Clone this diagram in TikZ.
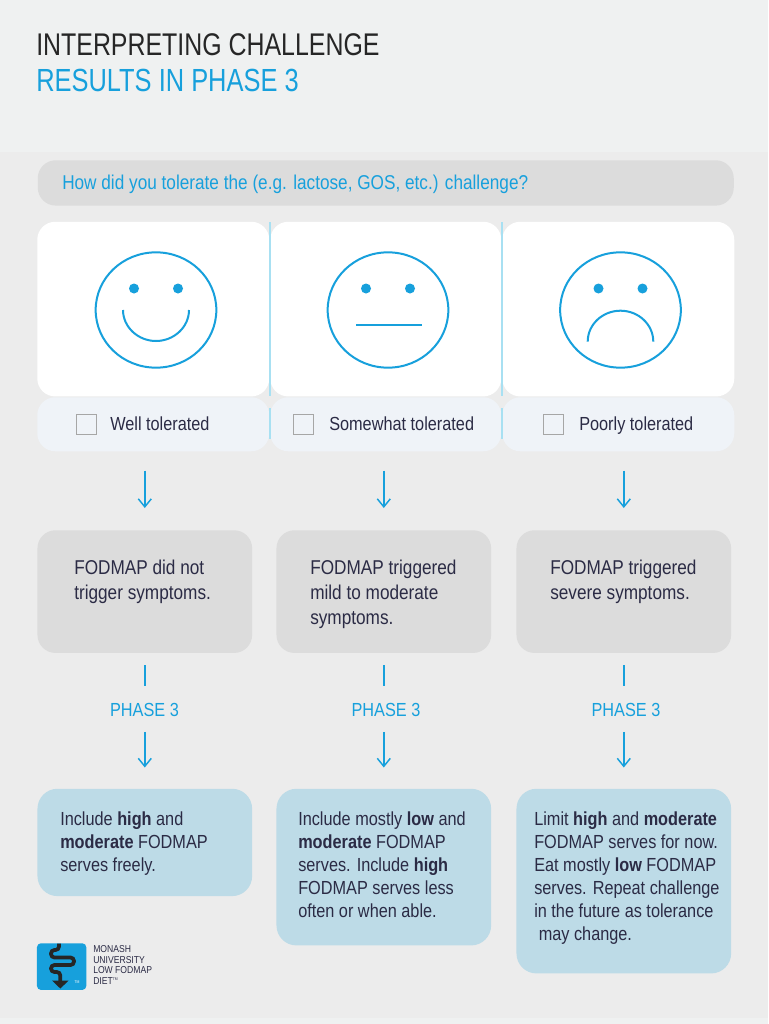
\documentclass[tikz,border=0pt]{standalone}
\usepackage{fontspec}
\usepackage{amsmath}
\setmainfont{Liberation Sans}[FakeStretch=0.86]
\newfontfamily\titlefont{Liberation Sans}[FakeStretch=0.795]
\usetikzlibrary{calc}
\usetikzlibrary{positioning}
\usetikzlibrary{shapes.geometric}
\usetikzlibrary{arrows.meta}
\definecolor{monashblue}{HTML}{17A0DC}
\definecolor{inkdark}{HTML}{2B2B45}
\definecolor{pagegrey}{HTML}{ECECEC}
\definecolor{topgrey}{HTML}{EFF1F1}
\definecolor{boxgrey}{HTML}{DCDCDC}
\definecolor{paleblue}{HTML}{EFF3F8}
\definecolor{resultblue}{HTML}{BDDBE7}
\definecolor{sepblue}{HTML}{A8E0F2}

\begin{document}
\begin{tikzpicture}
		[
		x=0.75pt,y=-0.75pt,
		inner sep=0,
		font=\fontsize{14.2}{18.8}\selectfont,
		text=inkdark
		]
		
		% Node styles
		\tikzstyle{panel}=[rectangle,draw=none,anchor=north west];
		\tikzstyle{face box}=[panel,fill=white,rounded corners=13.5,minimum height=131];
		\tikzstyle{tick box}=[panel,fill=paleblue,rounded corners=13.5,minimum height=40.5];
		\tikzstyle{outcome box}=[panel,fill=boxgrey,rounded corners=13.5,minimum width=161,minimum height=92];
		\tikzstyle{result box}=[panel,fill=resultblue,rounded corners=15,minimum width=161];
		\tikzstyle{outcome text}=[anchor=north west,align=left,font=\fontsize{15}{18.75}\selectfont];
		\tikzstyle{result text}=[anchor=north west,align=left,font=\fontsize{14.2}{17.25}\selectfont];
		\tikzstyle{face}=[draw=monashblue,line width=1.5pt];
		\tikzstyle{eye}=[circle,fill=monashblue,minimum size=7.5pt];
		\tikzstyle{flow}=[draw=monashblue,line width=1.1pt];
		\tikzstyle{flow arrow}=[flow,-{Straight Barb[length=6pt,width=9.75pt]}];
		
		% Background
		\fill[pagegrey](0,0)rectangle(768,1024);
		\fill[topgrey](0,0)rectangle(768,152);
		\fill[topgrey](0,1018)rectangle(768,1024);
		\useasboundingbox(0,0)rectangle(768,1024);
		
		% Title
		\node(title)[anchor=base west,font=\titlefont\fontsize{23.5}{28}\selectfont,text=black!85]at(36,56){INTERPRETING CHALLENGE};
		\node(subtitle)[anchor=base west,font=\titlefont\fontsize{24}{28}\selectfont,text=monashblue]at(36,91){RESULTS IN PHASE 3};
		
		% Question
		\node(question)[panel,fill=boxgrey,rounded corners=13.5,minimum width=522,minimum height=34]at(37.5,160){};
		\node(questiontext)[anchor=base west,text=monashblue,font=\fontsize{15}{18}\selectfont]at(62,189){How did you tolerate the (e.g. lactose, GOS, etc.) challenge?};
		
		% Faces and tick rows
		\foreach\n/\x/\w in {1/37/232,2/270/231,3/502/232}{
			\node(face\n)[face box,minimum width=\w*0.75pt]at(\x,221.5){};
			\node(tick\n)[tick box,minimum width=\w*0.75pt]at(\x,397){};
		}
		\foreach\x in {269.7,501.7}{
			\draw[sepblue,line width=1.4pt](\x,222)--(\x,396);
			\draw[sepblue,line width=1.4pt](\x,408)--(\x,439);
		}
		\foreach\n/\x in {1/156,2/388,3/620.5}{
			\node(head\n)[face,ellipse,minimum width=90.5pt,minimum height=86.5pt]at(\x,310){};
			\node(eyel\n)[eye]at(\x-22,288.5){};
			\node(eyer\n)[eye]at(\x+22,288.5){};
		}
		% Mouths
		\coordinate(smilel)at(123,310);
		\coordinate(smiler)at(189,310);
		\coordinate(flatl)at(356,325);
		\coordinate(flatr)at(422,325);
		\coordinate(frownl)at(587.7,341.7);
		\coordinate(frownr)at(653.3,341.7);
		\draw[face](smilel)..controls(123,327)and(138,341)..(156,341)..controls(174,341)and(189,327)..(smiler);
		\draw[face](flatl)--(flatr);
		\draw[face](frownl)..controls(587.7,324.5)and(602.5,310.7)..(620.5,310.7)..controls(638.5,310.7)and(653.3,324.5)..(frownr);
		
		% Tick labels
		\foreach\n/\x/\tx/\t in {1/76/110/Well tolerated,2/293/329/Somewhat tolerated,3/543/579/Poorly tolerated}{
			\node(check\n)[draw=black!35,line width=0.6pt,minimum size=15pt,anchor=north west]at(\x,414){};
			\node(ticktext\n)[anchor=base west]at(\tx,430.5){\t};
		}
		
		% Outcome boxes
		\node(out1)[outcome box]at(37.2,530){};
		\node(out2)[outcome box]at(276.2,530){};
		\node(out3)[outcome box]at(516.2,530){};
		\node(outtext1)[outcome text]at(74,560){FODMAP did not\\trigger symptoms.};
		\node(outtext2)[outcome text]at(310,560){FODMAP triggered\\mild to moderate\\symptoms.};
		\node(outtext3)[outcome text]at(550,559.5){FODMAP triggered\\severe symptoms.};
		
		% Phase labels
		\foreach\n/\x in {1/144.5,2/386,3/626}{
			\node(phase\n)[text=monashblue]at(\x,710){PHASE 3};
		}
		
		% Result boxes
		\node(res1)[result box,minimum height=80.5]at(37.2,788.5){};
		\node(res2)[result box,minimum height=117.5]at(276.2,788.5){};
		\node(res3)[result box,minimum height=138.5]at(516.2,788.5){};
		\node(restext1)[result text]at(60,811.5){Include \textbf{high} and\\\textbf{moderate} FODMAP\\serves freely.};
		\node(restext2)[result text]at(298,811.5){Include mostly \textbf{low} and\\\textbf{moderate} FODMAP\\serves. Include \textbf{high}\\FODMAP serves less\\often or when able.};
		\node(restext3)[result text]at(534,811.5){Limit \textbf{high} and \textbf{moderate}\\FODMAP serves for now.\\Eat mostly \textbf{low} FODMAP\\serves. Repeat challenge\\in the future as tolerance\\\ may change.};
		
		% Connectors
		\foreach\n in {1,2,3}{
			\coordinate(start\n)at(out\n.north|-tick\n.south);
			\draw[flow arrow,shorten <=14.25pt,shorten >=16.5pt](start\n)--(out\n.north);
			\draw[flow,shorten <=9pt,shorten >=12.75pt](out\n.south)--(out\n.south|-phase\n.north);
			\draw[flow arrow,shorten <=11.25pt,shorten >=15.75pt](out\n.south|-phase\n.south)--(res\n.north);
		}
		
		% Logo
		\node(logo)[panel,fill=monashblue,rounded corners=3,minimum width=37,minimum height=35]at(36.7,943){};
		\coordinate(gutin)at(59,943.5);
		\coordinate(gutout)at(60.3,982);
		\draw[black!85,line width=2.8pt,rounded corners=2.6pt](gutin)--(59,950)--(51,950)--(51,957.5)--(74,957.5)--(74,965)--(51,965)--(51,972)--(60.3,972)--(gutout);
		\fill[black!85](52,980.5)--(68.7,980.5)--(60.3,988.5)--cycle;
		\node(logotm)[font=\fontsize{3}{3}\selectfont,text=white]at(77,982){TM};
		\node(logotext)[anchor=north west,align=left,font=\fontsize{7.5}{7.9}\selectfont]at(93,945.5){MONASH\\UNIVERSITY\\LOW FODMAP\\DIET\textsuperscript{\fontsize{3}{3}\selectfont TM}};
		
\end{tikzpicture}
\end{document}
